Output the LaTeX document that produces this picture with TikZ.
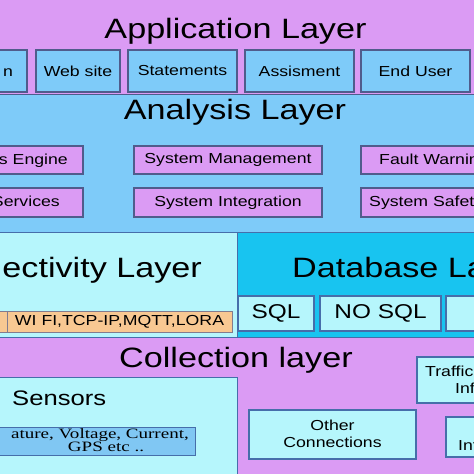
\documentclass[tikz,border=0pt]{standalone}
\usepackage{fontspec}
\setmainfont{Liberation Sans}
\newfontfamily\sansw[FakeStretch=1.22]{Liberation Sans}
\newfontfamily\serifw[FakeStretch=1.33]{Liberation Serif}
\definecolor{purp}{RGB}{219,155,244}
\definecolor{lblue}{RGB}{126,203,249}
\definecolor{pcyan}{RGB}{182,246,252}
\definecolor{dcyan}{RGB}{24,196,240}
\definecolor{orng}{RGB}{248,200,146}
\definecolor{sblue}{RGB}{128,199,243}
\definecolor{edge}{RGB}{80,92,140}
\definecolor{ledge}{RGB}{70,110,170}
\tikzset{
  title/.style={font=\sansw\fontsize{28}{30}\selectfont, inner sep=0pt},
  small/.style={font=\sansw\fontsize{14.5}{17}\selectfont, inner sep=0pt},
  mid/.style={font=\sansw\fontsize{21}{23}\selectfont, inner sep=0pt},
  serifsmall/.style={font=\serifw\fontsize{14.3}{15}\selectfont, inner sep=0pt},
  box/.style={draw=edge, line width=1.1pt, inner sep=0pt, font=\sansw\fontsize{14.5}{17}\selectfont},
  appbox/.style={box, fill=lblue},
  anbox/.style={box, fill=purp},
  cybox/.style={box, fill=pcyan},
  orbox/.style={box, fill=orng, draw=edge!70!orng, line width=0.8pt},
}
\begin{document}
\begin{tikzpicture}[x=1pt,y=-1pt]
\useasboundingbox (0,0) rectangle (474,474);
\clip (0,0) rectangle (474,474);
% layers
\fill[purp] (0,0) rectangle (474,95);
\fill[lblue] (0,95) rectangle (474,232);
\draw[edge, line width=0.6pt] (0,94.5) -- (474,94.5);
\draw[ledge, line width=1pt, fill=pcyan] (-2,232) rectangle (237,337);
\draw[ledge, line width=1pt, fill=dcyan] (237,232) rectangle (477,337);
\fill[purp] (0,337.5) rectangle (474,474);
\draw[ledge, line width=1pt] (-2,337) -- (477,337);
% application layer
\node[title, anchor=base] (apptitle) at (235.5,38) {Application Layer};
\node[appbox, minimum width=37pt, minimum height=42pt] (a1) at (8.5,71) {};
\node[small, anchor=base west] (a1t) at (3,76) {n};
\node[appbox, minimum width=84pt, minimum height=42pt] (a2) at (78,71) {Web site};
\node[appbox, minimum width=109pt, minimum height=42pt] (a3) at (182.5,71) {Statements};
\node[appbox, minimum width=109pt, minimum height=42pt] (a4) at (299.5,71) {Assisment};
\node[appbox, minimum width=109pt, minimum height=42pt] (a5) at (415.5,71) {End User};
% analysis layer
\node[title, anchor=base] (antitle) at (235,119) {Analysis Layer};
\node[anbox, minimum width=93pt, minimum height=28pt] (b1) at (36.5,160) {};
\node[small, anchor=base east] (b1t) at (68,164) {s Engine};
\node[anbox, minimum width=188pt, minimum height=28pt] (b2) at (228,160) {System Management};
\node[anbox, minimum width=129pt, minimum height=28pt] (b3) at (425.5,160) {};
\node[small, anchor=base west] (b3t) at (379,164) {Fault Warnin};
\node[anbox, minimum width=93pt, minimum height=29pt] (c1) at (36.5,202.5) {};
\node[small, anchor=base east] (c1t) at (60,206) {Services};
\node[anbox, minimum width=188pt, minimum height=29pt] (c2) at (228,202.5) {System Integration};
\node[anbox, minimum width=129pt, minimum height=29pt] (c3) at (425.5,202.5) {};
\node[small, anchor=base west] (c3t) at (369,206) {System Safet};
% connectivity layer
\node[title, anchor=base east] (cotitle) at (202,277) {ectivity Layer};
\node[orbox, minimum width=17pt, minimum height=21pt] (o1) at (-1.5,321.5) {};
\node[orbox, minimum width=225pt, minimum height=21pt] (o2) at (119.5,321.5) {WI FI,TCP-IP,MQTT,LORA};
% database layer
\node[title, anchor=base west] (dbtitle) at (292,277) {Database La};
\node[cybox, draw=ledge, minimum width=76pt, minimum height=35pt, font=\sansw\fontsize{20}{22}\selectfont] (d1) at (276,313.5) {SQL};
\node[cybox, draw=ledge, minimum width=121pt, minimum height=35pt, font=\sansw\fontsize{20}{22}\selectfont] (d2) at (380.5,313.5) {NO SQL};
\node[cybox, draw=ledge, minimum width=44pt, minimum height=35pt] (d3) at (468,313.5) {};
% collection layer
\node[title, anchor=base] (cltitle) at (236,367) {Collection layer};
\draw[ledge, line width=1pt, fill=pcyan] (-2,377) rectangle (237,480);
\node[mid, anchor=base west] (sens) at (12,405) {Sensors};
\node[box, draw=ledge, line width=0.8pt, fill=sblue, minimum width=205pt, minimum height=28pt] (sb) at (92.5,441) {};
\node[serifsmall, anchor=base east] (sl1) at (189,438.5) {ature, Voltage, Current,};
\node[serifsmall, anchor=base] (sl2) at (106,451.5) {GPS etc ..};
\node[cybox, draw=ledge, minimum width=167pt, minimum height=49pt] (oc) at (332.5,434.5) {};
\node[small, anchor=base] (oct1) at (332.5,430) {Other};
\node[small, anchor=base] (oct2) at (332.5,447) {Connections};
\node[cybox, draw=ledge, minimum width=73pt, minimum height=46pt] (tr) at (453.5,380) {};
\node[small, anchor=base west] (trt1) at (425,376) {Traffic};
\node[small, anchor=base west] (trt2) at (455,393) {Inf};
\node[cybox, draw=ledge, minimum width=44pt, minimum height=40pt] (br) at (468,437) {};
\node[small, anchor=base west] (brt) at (458,450) {Int};
\end{tikzpicture}
\end{document}
